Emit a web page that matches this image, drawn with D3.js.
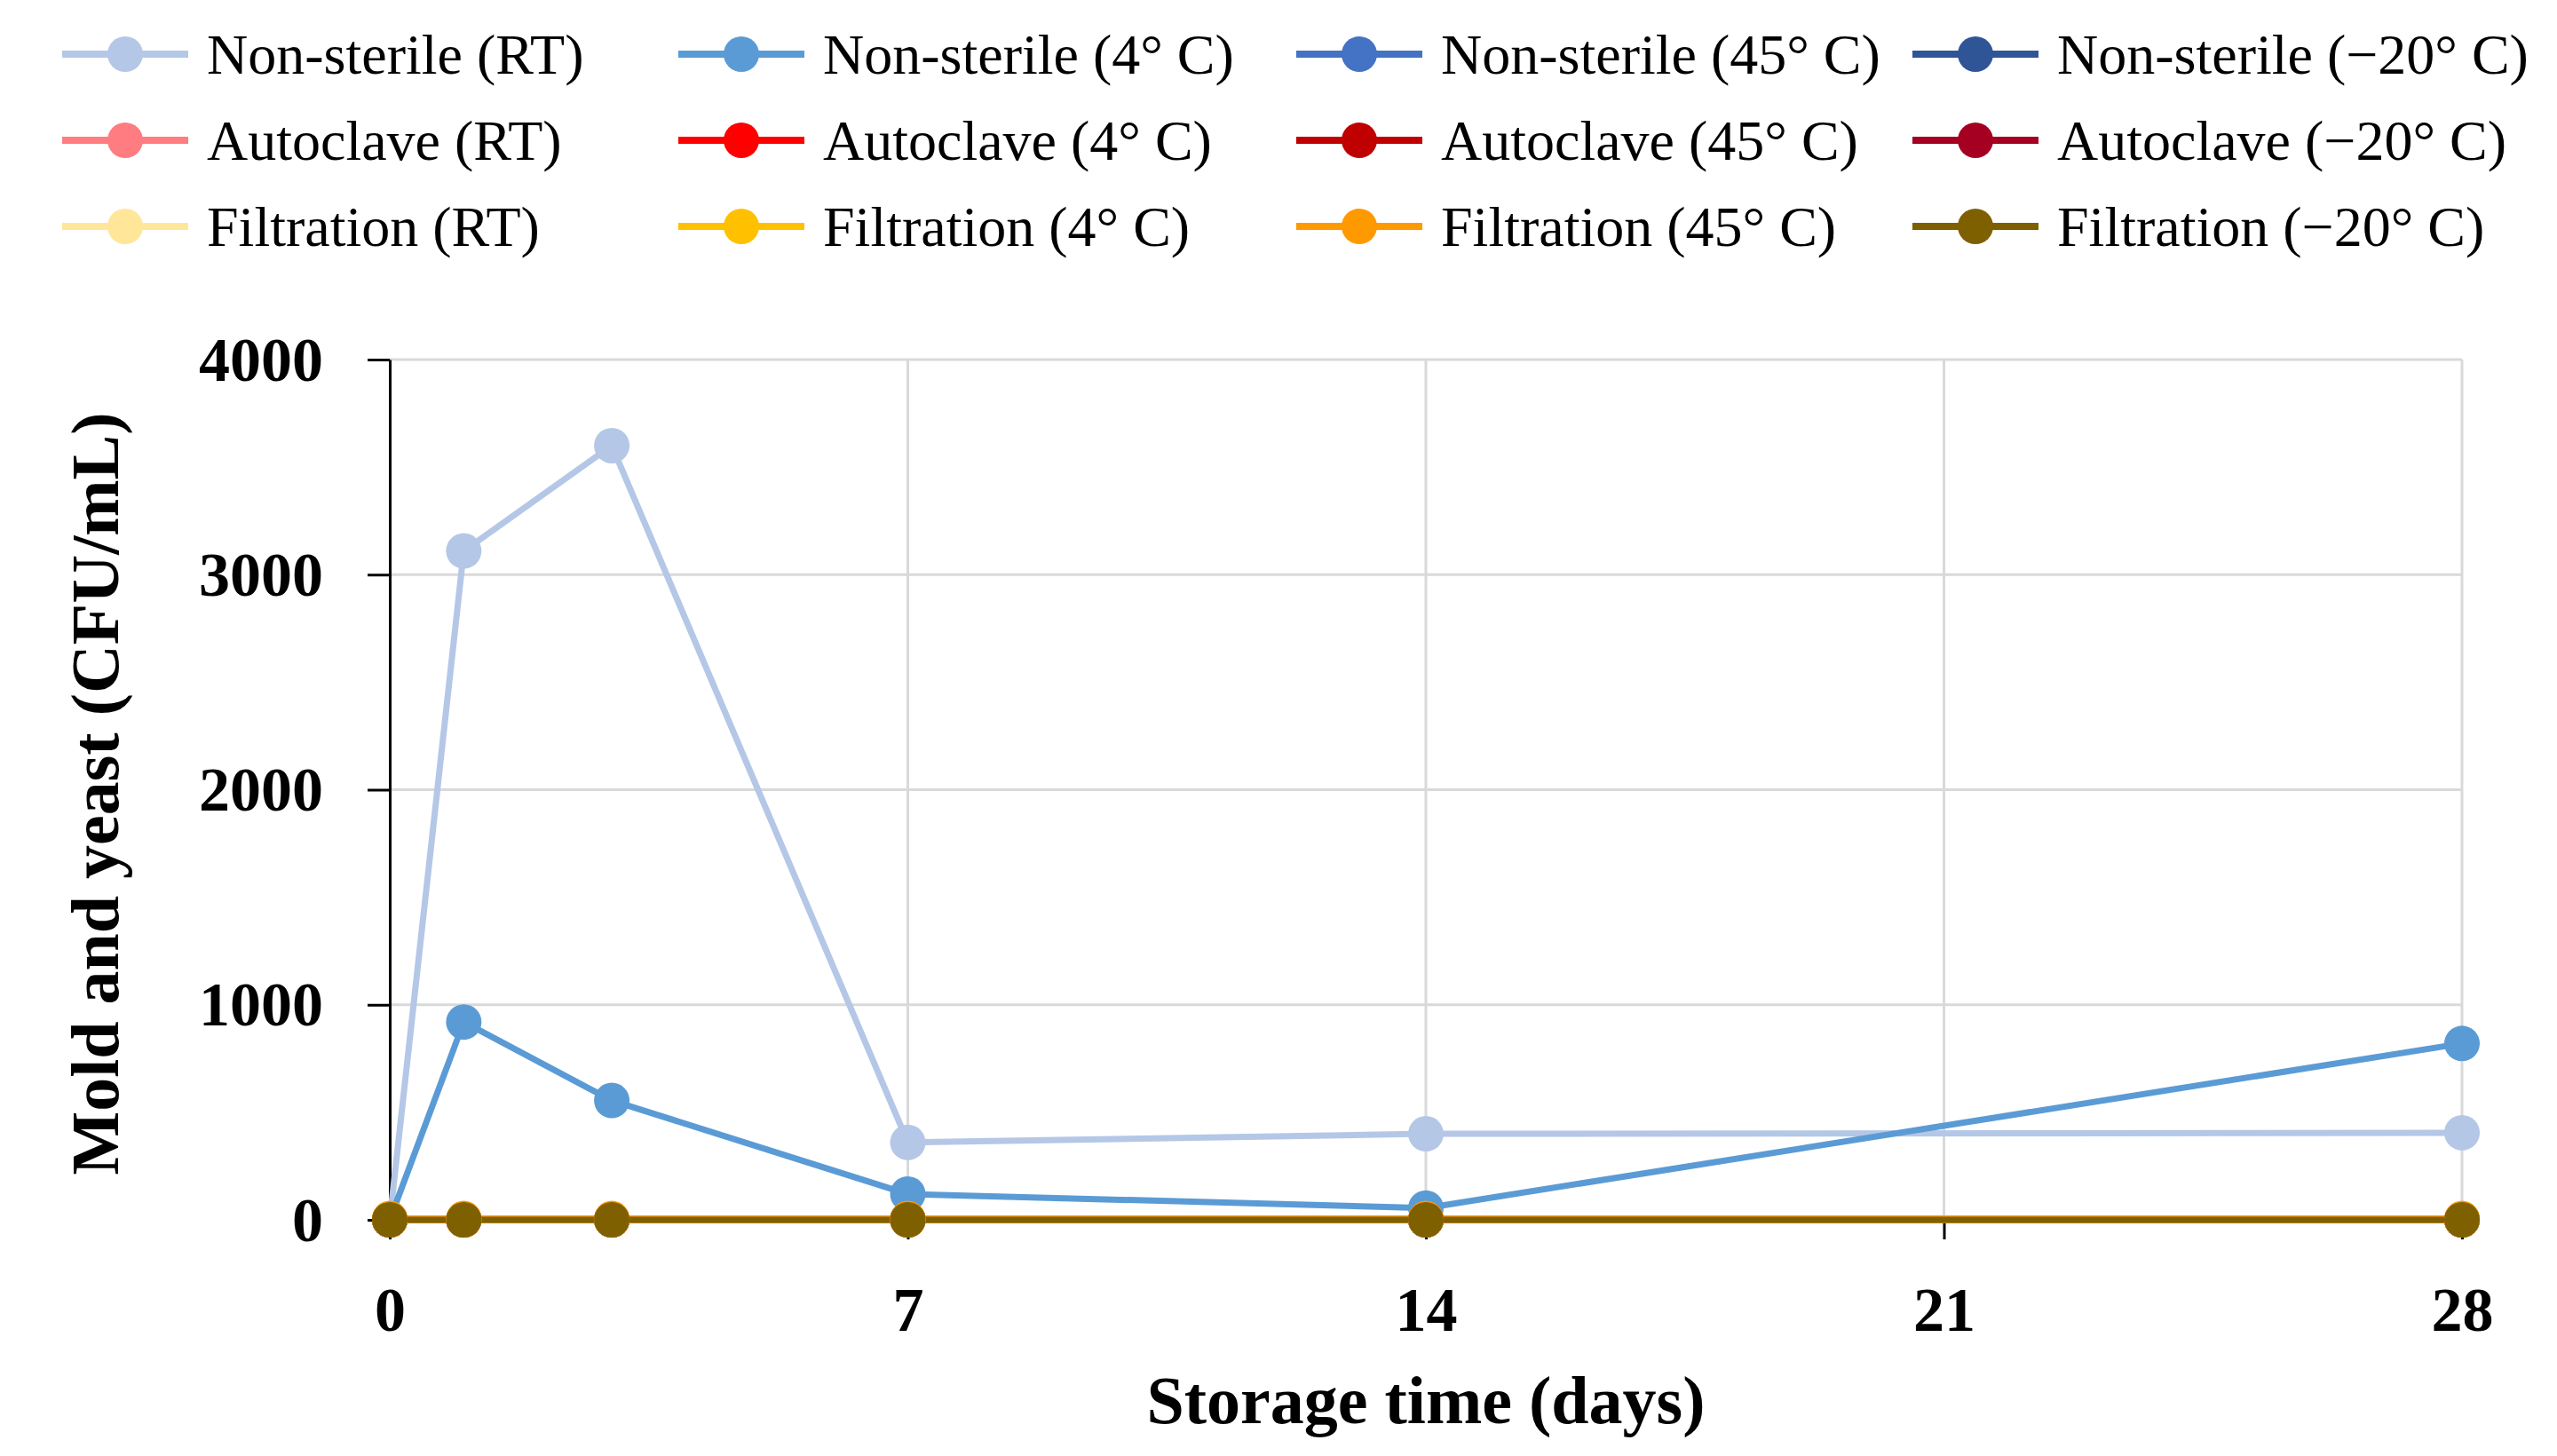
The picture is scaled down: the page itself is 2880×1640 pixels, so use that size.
<!DOCTYPE html>
<html>
<head>
<meta charset="utf-8">
<script src="https://cdn.jsdelivr.net/npm/d3@7"></script>
<style>
  body { margin: 0; background: #fff; }
  text { font-family: "Liberation Serif", "DejaVu Serif", serif; fill: #000; }
</style>
</head>
<body>
<div id="chart"></div>
<script>
// storage days and readings (CFU/mL)
var days = [0, 1, 3, 7, 14, 28];

var seriesNames = [
  "Non-sterile (RT)", "Non-sterile (4° C)", "Non-sterile (45° C)", "Non-sterile (\u221220° C)",
  "Autoclave (RT)", "Autoclave (4° C)", "Autoclave (45° C)", "Autoclave (\u221220° C)",
  "Filtration (RT)", "Filtration (4° C)", "Filtration (45° C)", "Filtration (\u221220° C)"
];

var seriesColors = [
  "#b4c7e7", "#5b9bd5", "#4472c4", "#2f5597",
  "#ff7c80", "#ff0000", "#c00000", "#a50021",
  "#ffe699", "#ffc000", "#ff9900", "#7f6000"
];

var nonSterileRT   = [0, 3110, 3600, 360, 400, 405];
var nonSterile4    = [0, 920, 555, 120, 55, 820];
var nonSterile45   = [0, 0, 0, 0, 0, 0];
var nonSterileM20  = [0, 0, 0, 0, 0, 0];
var autoclaveRT    = [0, 0, 0, 0, 0, 0];
var autoclave4     = [0, 0, 0, 0, 0, 0];
var autoclave45    = [0, 0, 0, 0, 0, 0];
var autoclaveM20   = [0, 0, 0, 0, 0, 0];
var filtrationRT   = [0, 0, 0, 0, 0, 0];
var filtration4    = [0, 0, 0, 0, 0, 0];
var filtration45   = [6, 6, 6, 6, 6, 6];
var filtrationM20  = [0, 0, 0, 0, 0, 0];

var seriesValues = [
  nonSterileRT, nonSterile4, nonSterile45, nonSterileM20,
  autoclaveRT, autoclave4, autoclave45, autoclaveM20,
  filtrationRT, filtration4, filtration45, filtrationM20
];

var xTicks = [0, 7, 14, 21, 28];
var yTicks = [0, 1000, 2000, 3000, 4000];

var svgWidth = 2880;
var svgHeight = 1640;

var margin = { top: 405, right: 107, bottom: 266, left: 439 };
var width = svgWidth - margin.left - margin.right;
var height = svgHeight - margin.top - margin.bottom;

var svg = d3.select("#chart")
  .append("svg")
  .attr("width", svgWidth)
  .attr("height", svgHeight);

svg.append("rect")
  .attr("width", svgWidth)
  .attr("height", svgHeight)
  .attr("fill", "#fff");

var chartGroup = svg.append("g")
  .attr("transform", `translate(${margin.left},${margin.top})`);

var xScale = d3.scaleLinear().domain([0, 28]).range([0, width]);
var yScale = d3.scaleLinear().domain([0, 4000]).range([height, 0]);

// gridlines
chartGroup.append("g")
  .selectAll("line")
  .data(yTicks.filter(d => d > 0))
  .enter()
  .append("line")
  .attr("x1", 0)
  .attr("x2", width)
  .attr("y1", d => yScale(d))
  .attr("y2", d => yScale(d))
  .attr("stroke", "#d9d9d9")
  .attr("stroke-width", 3);

chartGroup.append("g")
  .selectAll("line")
  .data(xTicks.filter(d => d > 0))
  .enter()
  .append("line")
  .attr("x1", d => xScale(d))
  .attr("x2", d => xScale(d))
  .attr("y1", 0)
  .attr("y2", height)
  .attr("stroke", "#d9d9d9")
  .attr("stroke-width", 3);

// axes
var bottomAxis = d3.axisBottom(xScale)
  .tickValues(xTicks)
  .tickSizeInner(22)
  .tickSizeOuter(0)
  .tickPadding(52);

var leftAxis = d3.axisLeft(yScale)
  .tickValues(yTicks)
  .tickFormat(d3.format("d"))
  .tickSizeInner(25)
  .tickSizeOuter(0)
  .tickPadding(50);

var xAxis = chartGroup.append("g")
  .attr("transform", `translate(0, ${height})`)
  .call(bottomAxis);

var yAxis = chartGroup.append("g")
  .call(leftAxis);

[xAxis, yAxis].forEach(ax => {
  ax.select(".domain").attr("stroke", "#000").attr("stroke-width", 3);
  ax.selectAll(".tick line").attr("stroke", "#000").attr("stroke-width", 3);
  ax.selectAll(".tick text")
    .style("font-family", "'Liberation Serif', 'DejaVu Serif', serif")
    .style("font-weight", "bold")
    .style("font-size", "70px")
    .attr("fill", "#000");
});
xAxis.selectAll(".tick text").attr("dy", "0.35em").attr("y", 100);
yAxis.selectAll(".tick text").attr("dy", "0.33em");

// series lines first, markers on top
var line = d3.line()
  .x((d, i) => xScale(days[i]))
  .y(d => yScale(d));

var linesGroup = chartGroup.append("g");
var markersGroup = chartGroup.append("g");

seriesValues.forEach((vals, s) => {
  linesGroup.append("path")
    .datum(vals)
    .attr("d", line)
    .attr("fill", "none")
    .attr("stroke", seriesColors[s])
    .attr("stroke-width", 7)
    .attr("stroke-linejoin", "round");

  markersGroup.append("g")
    .selectAll("circle")
    .data(vals)
    .enter()
    .append("circle")
    .attr("cx", (d, i) => xScale(days[i]))
    .attr("cy", d => yScale(d))
    .attr("r", 20)
    .attr("fill", seriesColors[s]);
});

// axis titles
svg.append("text")
  .attr("x", 1606)
  .attr("y", 1576)
  .attr("dy", "0.35em")
  .attr("text-anchor", "middle")
  .style("font-weight", "bold")
  .style("font-size", "76px")
  .text("Storage time (days)");

svg.append("text")
  .attr("transform", "translate(106, 894) rotate(-90)")
  .attr("dy", "0.35em")
  .attr("text-anchor", "middle")
  .style("font-weight", "bold")
  .style("font-size", "76px")
  .text("Mold and yeast (CFU/mL)");

// legend
var legendCols = [70, 764, 1460, 2154];
var legendRows = [61, 158, 255];

var legend = svg.append("g")
  .selectAll("g")
  .data(seriesNames)
  .enter()
  .append("g")
  .attr("transform", (d, i) => `translate(${legendCols[i % 4]}, ${legendRows[Math.floor(i / 4)]})`);

legend.append("line")
  .attr("x1", 0)
  .attr("x2", 142)
  .attr("stroke", (d, i) => seriesColors[i])
  .attr("stroke-width", 8);

legend.append("circle")
  .attr("cx", 71)
  .attr("r", 20)
  .attr("fill", (d, i) => seriesColors[i]);

legend.append("text")
  .attr("x", 163)
  .attr("dy", "0.35em")
  .style("font-size", "64px")
  .text(d => d);
</script>
</body>
</html>
